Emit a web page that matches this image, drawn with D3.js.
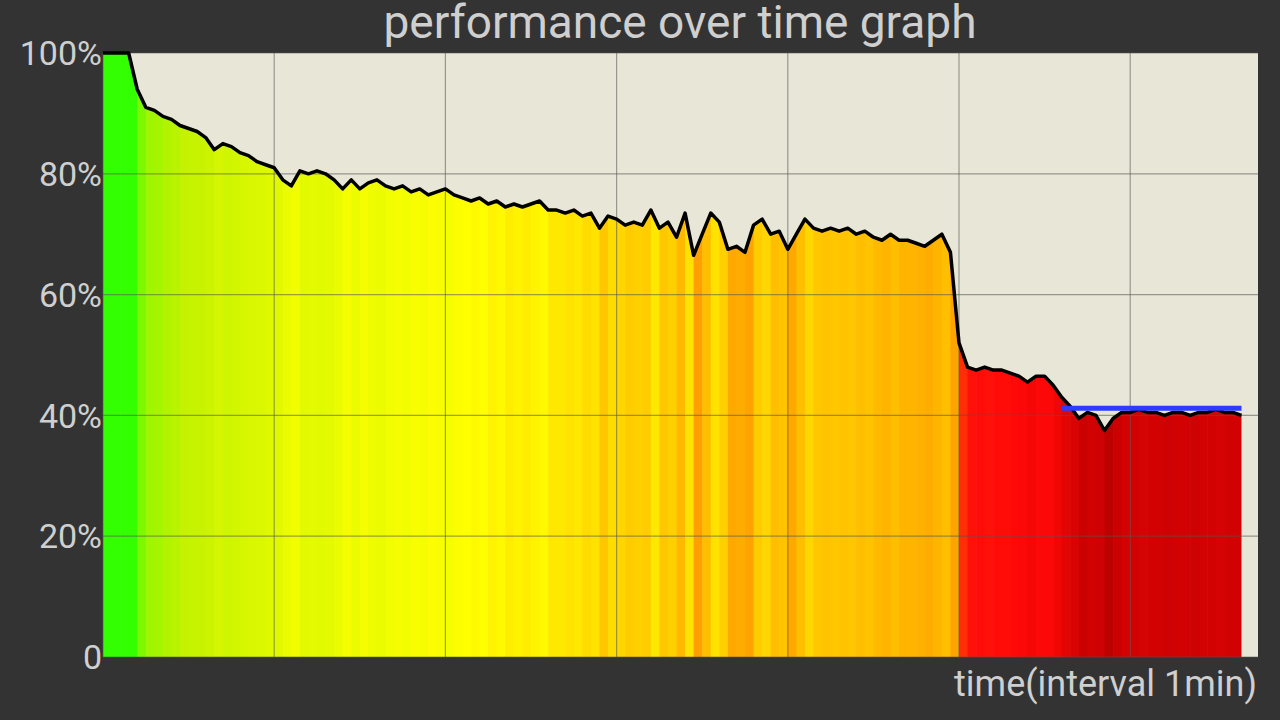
<!DOCTYPE html>
<html><head><meta charset="utf-8">
<script src="https://cdn.jsdelivr.net/npm/d3@7"></script>
<style>body{margin:0;background:#333333;}svg{display:block;font-family:Roboto,sans-serif;}</style>
</head><body>
<svg id="c" width="1280" height="720"></svg>
<script>
const title = "performance over time graph";
const xLabel = "time(interval 1min)";
const yTicks = [0, 20, 40, 60, 80, 100];
const xGrid = [0, 1, 2, 3, 4, 5, 6];
const step = 0.05;
const values = [100,100,100,100,94,91,90.5,89.5,89,88,87.5,87,86,84,85,84.5,83.5,83,82,81.5,
81,79,78,80.5,80,80.5,80,79,77.5,79,77.5,78.5,79,78,77.5,78,77,77.5,76.5,77,
77.5,76.5,76,75.5,76,75,75.5,74.5,75,74.5,75,75.5,74,74,73.5,74,73,73.5,71,73,
72.5,71.5,72,71.5,74,71,72,69.5,73.5,66.5,70,73.5,72,67.5,68,67,71.5,72.5,70,70.5,
67.5,70,72.5,71,70.5,71,70.5,71,70,70.5,69.5,69,70,69,69,68.5,68,69,70,67,
52,48,47.5,48,47.5,47.5,47,46.5,45.5,46.5,46.5,45,43,41.5,39.5,40.5,40,37.5,39.5,40.5,
40.5,41,40.5,40.5,40,40.5,40.5,40,40.5,40.5,41,40.5,40.5,40];
const avgStart = 5.6, avgEnd = 6.65, avgValue = 41.2;

const svg = d3.select("#c");
const L=103,R=1258,T=53,B=657;
const x = d3.scaleLinear().domain([0,(R-L)/171.2]).range([L,R]);
const y = d3.scaleLinear().domain([0,100]).range([B,T]);
const col = d3.scaleLinear().domain([38,47,66,72,76,80,88,100])
  .range(["#c00000","#ff0808","#ff9a00","#ffd000","#ffff00","#e4fa00","#c4f200","#33ff00"]);

svg.append("rect").attr("x",L).attr("y",T).attr("width",R-L).attr("height",B-T).attr("fill","#e8e6d6");
const data = values.map((v,i)=>({t:i*step,v}));
const line = d3.line().x(d=>x(d.t)).y(d=>y(d.v));
const area = d3.area().x(d=>x(d.t)).y0(B).y1(d=>y(d.v));
svg.append("clipPath").attr("id","under").append("path").datum(data).attr("d",area);
svg.append("g").attr("clip-path","url(#under)").selectAll("rect").data(data.slice(0,-1)).join("rect")
  .attr("x",d=>x(d.t)).attr("width",d=>x(d.t+step)-x(d.t)+0.6)
  .attr("y",T).attr("height",B-T).attr("fill",d=>col(d.v));
const g = svg.append("g").attr("stroke","#555").attr("stroke-opacity",0.55).attr("stroke-width",1.2);
xGrid.forEach(t=>g.append("line").attr("x1",x(t)).attr("x2",x(t)).attr("y1",T).attr("y2",B));
yTicks.forEach(t=>g.append("line").attr("x1",L).attr("x2",R).attr("y1",y(t)).attr("y2",y(t)));
svg.append("path").datum(data).attr("fill","none").attr("stroke","#000").attr("stroke-width",3.5)
  .attr("stroke-linejoin","round").attr("d",line);
svg.append("line").attr("x1",x(avgStart)).attr("x2",x(avgEnd)).attr("y1",y(avgValue)).attr("y2",y(avgValue))
  .attr("stroke","#2a3cff").attr("stroke-width",5);
svg.append("g").selectAll("text").data(yTicks).join("text")
  .attr("x",102).attr("y",d=>y(d)).attr("dy","0.36em").attr("text-anchor","end")
  .attr("fill","#cfcfcf").attr("font-size",34).text(d=>d===0?"0":d+"%");
svg.append("text").attr("x",680).attr("y",38).attr("text-anchor","middle").attr("fill","#cfcfcf")
  .attr("font-size",46).text(title);
svg.append("text").attr("x",1257).attr("y",696).attr("text-anchor","end").attr("fill","#cfcfcf")
  .attr("font-size",36).text(xLabel);
</script>
</body></html>
